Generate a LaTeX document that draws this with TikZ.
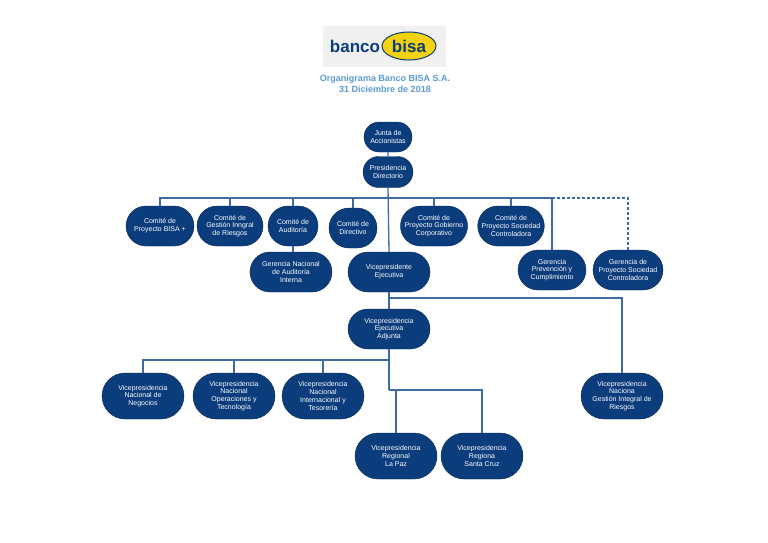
\documentclass[tikz,border=0pt]{standalone}
\usepackage{fontspec}
\setmainfont{Liberation Sans}
\usetikzlibrary{shapes.misc,shapes.geometric}
\definecolor{nb}{HTML}{0B3C7C}
\definecolor{ln}{HTML}{3F6BA3}
\definecolor{tt}{HTML}{5B9BD5}
\definecolor{yl}{HTML}{F5D20F}
\begin{document}
\begin{tikzpicture}[x=1pt,y=-1pt,
  box/.style={rounded rectangle, fill=nb, draw=nb!70!black, text=white, align=center,
    font=\fontsize{7}{7.8}\selectfont, inner sep=1pt, minimum height=#1},
  box/.default=40,
  wire/.style={draw=ln, line width=1.3pt},
  dwire/.style={draw=ln, line width=1.3pt, dash pattern=on 3pt off 2pt}]
\useasboundingbox[fill=white] (0,0) rectangle (768,543);
% logo
\node[draw=none, fill=gray!12, minimum width=123, minimum height=41] (logo) at (384,47) {};
\node[text=nb, font=\bfseries\fontsize{17}{17}\selectfont] (banco) at (355,46) {banco};
\node[ellipse, fill=yl, draw=nb, line width=1pt, minimum width=54, minimum height=28, text=nb, font=\bfseries\fontsize{17}{17}\selectfont, inner sep=0pt] (bisa) at (409,46) {bisa};
\node[text=tt, font=\bfseries\fontsize{9}{11}\selectfont, align=center] (title) at (385,84) {Organigrama Banco BISA S.A.\\31 Diciembre de 2018};
% nodes
\node[box=30, minimum width=50] (junta) at (388,137) {Junta de\\Accionistas};
\node[box=31, minimum width=52] (pres) at (388,172) {Presidencia\\Directorio};
\node[box, minimum width=70] (c1) at (160,226) {Comité de\\Proyecto BISA +};
\node[box, minimum width=68] (c2) at (230,226) {Comité de\\Gestión Inngral\\de Riesgos};
\node[box, minimum width=52] (c3) at (293,226) {Comité de\\Auditoría};
\node[box, minimum width=50] (c4) at (353,228) {Comité de\\Directivo};
\node[box, minimum width=62] (c5) at (434,226) {Comité de\\Proyecto Gobierno\\Corporativo};
\node[box, minimum width=64] (c6) at (511,226) {Comité de\\Proyecto Sociedad\\Controladora};
\node[box, minimum width=84] (gaud) at (291,272) {Gerencia Nacional\\de Auditoría\\Interna};
\node[box, minimum width=84] (vpe) at (389,272) {Vicepresidente\\Ejecutiva};
\node[box, minimum width=70] (gpc) at (552,270) {Gerencia\\Prevención y\\Cumplimiento};
\node[box, minimum width=72] (gps) at (628,270) {Gerencia de\\Proyecto Sociedad\\Controladora};
\node[box, minimum width=84] (vpa) at (389,329) {Vicepresidencia\\Ejecutiva\\Adjunta};
\node[box=46, minimum width=84] (v1) at (143,396) {Vicepresidencia\\Nacional de\\Negocios};
\node[box=46, minimum width=84] (v2) at (234,396) {Vicepresidencia\\Nacional\\Operaciones y\\Tecnología};
\node[box=46, minimum width=84] (v3) at (323,396) {Vicepresidencia\\Nacional\\Internacional y\\Tesorería};
\node[box=46, minimum width=84] (vg) at (622,396) {Vicepresidencia\\Naciona\\Gestión Integral de\\Riesgos};
\node[box=46, minimum width=84] (vlp) at (396,456) {Vicepresidencia\\Regional\\La Paz};
\node[box=46, minimum width=84] (vsc) at (482,456) {Vicepresidencia\\Regiona\\Santa Cruz};
\coordinate (b1) at (389,198);
\coordinate (b2) at (389,298);
\coordinate (b3) at (389,360);
\coordinate (b4) at (389,390);
% connectors
\path[wire] (junta) -- (pres);
\path[wire] (pres.south) -- (vpe.north);
\path[wire] (vpe.south) -- (vpa.north);
\path[wire] (vpa.south) -- (b4);
\path[wire] (c1.north) |- (b1) -| (gpc.north);
\path[wire] (c2.north) -- (c2.north |- b1);
\path[wire] (c3.north) -- (c3.north |- b1);
\path[wire] (c4.north) -- (c4.north |- b1);
\path[wire] (c5.north) -- (c5.north |- b1);
\path[wire] (c6.north) -- (c6.north |- b1);
\path[wire] (c3.south) -- (gaud.north -| c3.south);
\path[dwire] (gpc.north |- b1) -| (gps.north);
\path[wire] (b2) -| (vg.north);
\path[wire] (b3) -| (v1.north);
\path[wire] (v2.north) -- (v2.north |- b3);
\path[wire] (v3.north) -- (v3.north |- b3);
\path[wire] (b4) -| (vsc.north);
\path[wire] (vlp.north) -- (vlp.north |- b4);
\end{tikzpicture}
\end{document}
